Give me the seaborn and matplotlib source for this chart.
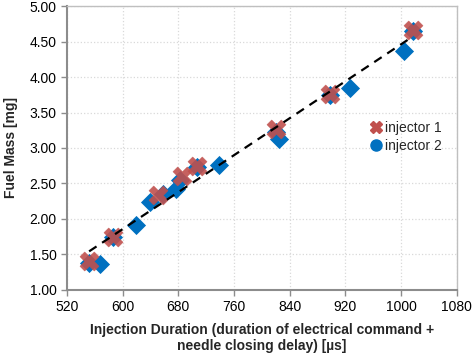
import numpy as np
import pandas as pd
import seaborn as sns
import matplotlib
matplotlib.use('agg')
import matplotlib.pyplot as plt
from matplotlib.lines import Line2D

# values
inj1_dur = [552, 586, 651, 685, 707, 820, 898, 1017]
inj1_mass = [1.40, 1.75, 2.33, 2.60, 2.74, 3.27, 3.76, 4.67]
inj2_dur = [552, 567, 586, 619, 640, 658, 677, 682, 707, 739, 820, 825, 898, 927, 1004, 1017]
inj2_mass = [1.38, 1.36, 1.74, 1.91, 2.24, 2.35, 2.42, 2.55, 2.73, 2.76, 3.22, 3.12, 3.75, 3.84, 4.37, 4.65]

x_ticks = [520, 600, 680, 760, 840, 920, 1000, 1080]
y_ticks = [1.00, 1.50, 2.00, 2.50, 3.00, 3.50, 4.00, 4.50, 5.00]

red = '#C0504D'
blue = '#0070C0'

df1 = pd.DataFrame({'dur': inj1_dur, 'mass': inj1_mass})
df2 = pd.DataFrame({'dur': inj2_dur, 'mass': inj2_mass})

sns.set_style('white')
plt.rcParams['font.family'] = ['Liberation Sans', 'DejaVu Sans']

fig, ax = plt.subplots(figsize=(4.74, 3.6), dpi=100)
fig.subplots_adjust(left=0.141, right=0.964, top=0.983, bottom=0.195)

sns.scatterplot(data=df2, x='dur', y='mass', marker='D', s=95, color=blue,
                edgecolor=blue, linewidth=0, ax=ax, zorder=3)
sns.scatterplot(data=df1, x='dur', y='mass', marker='X', s=190, color=red,
                edgecolor=red, linewidth=0.3, alpha=0.9, ax=ax, zorder=4)

# linear trend line through all points
all_x = np.array(inj1_dur + inj2_dur)
all_y = np.array(inj1_mass + inj2_mass)
k, b = np.polyfit(all_x, all_y, 1)
xx = np.array([all_x.min(), all_x.max()])
ax.plot(xx, k * xx + b, color='black', ls=(0, (4, 3)), lw=1.6, zorder=5)

ax.set_xlim(520, 1080)
ax.set_ylim(1.0, 5.0)
ax.set_xticks(x_ticks)
ax.set_yticks(y_ticks)
ax.set_yticklabels([f'{v:.2f}' for v in y_ticks])
ax.grid(True, color='#D9D9D9', ls=':', lw=0.9)
ax.tick_params(axis='both', labelsize=10, direction='out', length=4,
               width=1, colors='#8C8C8C', labelcolor='black', left=True, bottom=True)

for side in ['left', 'bottom']:
    ax.spines[side].set_color('#8C8C8C')
    ax.spines[side].set_linewidth(1.5)
for side in ['right', 'top']:
    ax.spines[side].set_color('#BFBFBF')
    ax.spines[side].set_linewidth(1)

ax.set_xlabel('Injection Duration (duration of electrical command +\nneedle closing delay) [\u00b5s]',
              fontsize=10, fontweight='bold', labelpad=6)
ax.set_ylabel('Fuel Mass [mg]', fontsize=10, fontweight='bold', labelpad=8)

handles = [Line2D([], [], marker='X', ls='', color=red, markersize=9),
           Line2D([], [], marker='o', ls='', color=blue, markersize=8)]
ax.legend(handles, ['injector 1', 'injector 2'], loc='center left',
          bbox_to_anchor=(0.74, 0.54), frameon=False, fontsize=10,
          handletextpad=0.0, labelspacing=0.3, handlelength=1.2)

fig.savefig('out.png', dpi=100)
